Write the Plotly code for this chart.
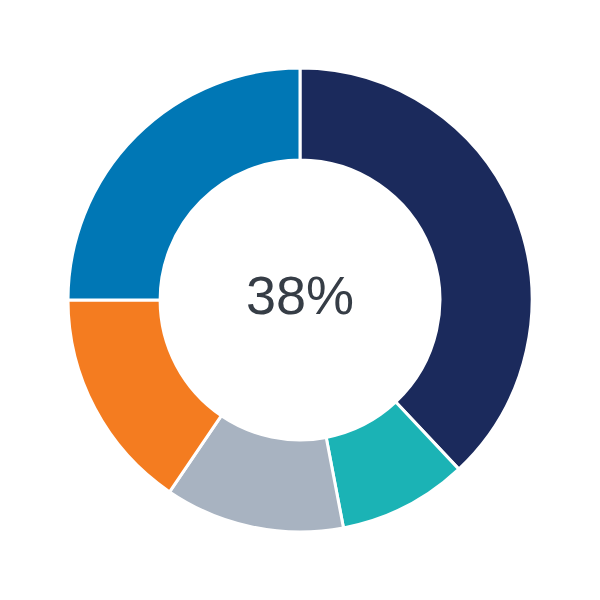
import plotly.graph_objects as go

# slices, clockwise from 12 o'clock
labels = ["A", "B", "C", "D", "E"]
values = [38, 9, 12.5, 15.5, 25]
colors = ["#1b2a5c", "#1bb3b5", "#a8b3c1", "#f47c20", "#0077b5"]
center_text = "38%"

fig = go.Figure()
fig.add_trace(go.Pie(
    labels=labels,
    values=values,
    hole=0.603,
    sort=False,
    direction="clockwise",
    rotation=0,
    marker=dict(colors=colors, line=dict(color="white", width=3)),
    textinfo="none",
    hoverinfo="label+percent",
    showlegend=False,
))

fig.add_annotation(
    text=center_text, x=0.5, y=0.5, xref="paper", yref="paper",
    showarrow=False, yshift=5,
    font=dict(family="Liberation Sans, Arial", size=54, color="#363d46"),
)

# page body has an 8px margin, so offset the domain to keep the ring centred
fig.update_layout(
    width=600, height=600,
    margin=dict(l=60, r=76, t=60, b=76),
    paper_bgcolor="white",
    plot_bgcolor="white",
)

fig.write_html("out.html")
